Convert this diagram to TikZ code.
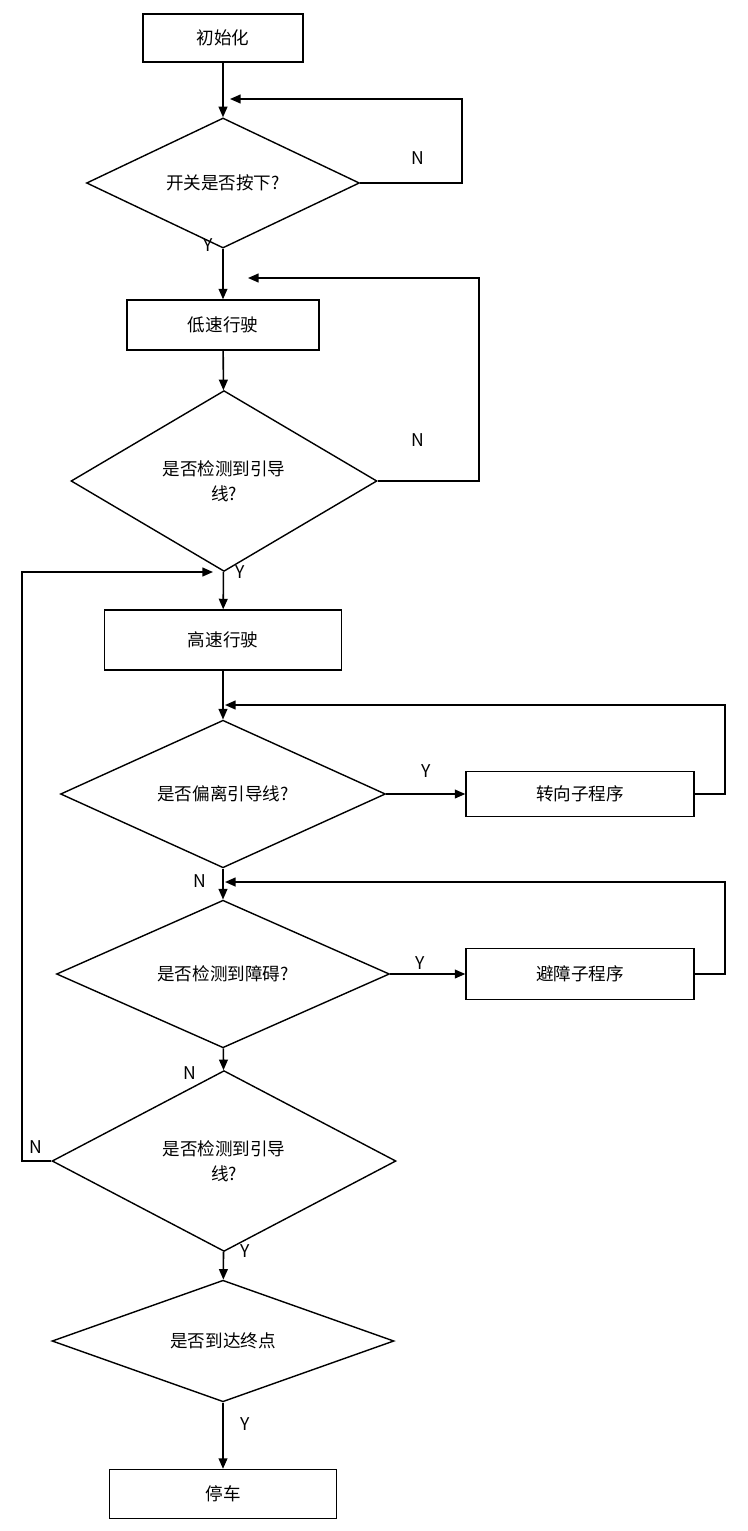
\documentclass[tikz,border=0pt]{standalone}
\usepackage{fontspec}
\setmainfont{Noto Sans CJK SC}
\usetikzlibrary{shapes.geometric,arrows.meta}

\tikzset{
	box/.style={draw,line width=0.8pt,inner sep=0pt},
	cond/.style={draw,diamond,line width=0.8pt,inner sep=0pt,align=center},
	flow/.style={line width=0.9pt,-{Triangle[length=6pt,width=5pt]}},
	lbl/.style={font=\fontsize{10}{12}\selectfont}
}

\begin{document}
\begin{tikzpicture}[x=0.02cm,y=-0.02cm,font=\fontsize{10}{14}\selectfont]
	\useasboundingbox (0,0) rectangle (747,1531);
	
	% main column
	\node[box,minimum width=3.2cm,minimum height=0.96cm] (init) at(223,38) {初始化};
	\node[cond,minimum width=5.46cm,minimum height=1.8cm] (sw) at(223,183) {开关是否按下?};
	\node[box,minimum width=3.84cm,minimum height=1.0cm] (slow) at(223,325) {低速行驶};
	\node[cond,minimum width=6.12cm,minimum height=2.2cm,text width=2.8cm] (line1) at(224,481) {是否检测到引导\\线?};
	\node[box,minimum width=4.74cm,minimum height=1.2cm] (fast) at(223,640) {高速行驶};
	\node[cond,minimum width=6.5cm,minimum height=1.92cm] (off) at(223,794) {是否偏离引导线?};
	\node[cond,minimum width=6.66cm,minimum height=2.24cm] (obst) at(223,974) {是否检测到障碍?};
	\node[cond,minimum width=6.88cm,minimum height=2.2cm,text width=2.8cm] (line2) at(224,1161) {是否检测到引导\\线?};
	\node[cond,minimum width=6.84cm,minimum height=2.04cm] (goal) at(223,1341) {是否到达终点};
	\node[box,minimum width=4.54cm,minimum height=0.98cm] (stop) at(223,1494) {停车};
	
	% side boxes
	\node[box,minimum width=4.56cm,minimum height=0.9cm] (turn) at(580,794) {转向子程序};
	\node[box,minimum width=4.56cm,minimum height=1.02cm] (avoid) at(580,974) {避障子程序};
	
	% loop ends
	\coordinate (swin) at(230,99);
	\coordinate (slowin) at(248,278);
	\coordinate (fastin) at(213,572);
	\coordinate (offin) at(225,705);
	\coordinate (obstin) at(225,882);
	
	% arrows down
	\draw[flow] (init) -- (sw);
	\draw[flow] (sw) -- (slow);
	\draw[flow] (slow) -- (line1);
	\draw[flow] (line1) -- (fast);
	\draw[flow] (fast) -- (off);
	\draw[flow] (off) -- (obst);
	\draw[flow] (obst) -- (line2);
	\draw[flow] (line2) -- (goal);
	\draw[flow] (goal) -- (stop);
	\draw[flow] (off) -- (turn);
	\draw[flow] (obst) -- (avoid);
	
	% loops back
	\draw[flow] (sw.east) -- (462,183) -- (462,99) -- (swin);
	\draw[flow] (line1.east) -- (479,481) -- (479,278) -- (slowin);
	\draw[flow] (line2.west) -- (22,1161) -- (22,572) -- (fastin);
	\draw[flow] (turn.east) -- (725,794) -- (725,705) -- (offin);
	\draw[flow] (avoid.east) -- (725,974) -- (725,882) -- (obstin);
	
	% labels
	\node[lbl] (n1) at(418,158) {N};
	\node[lbl] (y1) at(208,245) {Y};
	\node[lbl] (n2) at(418,440) {N};
	\node[lbl] (y2) at(240,572) {Y};
	\node[lbl] (y3) at(426,771) {Y};
	\node[lbl] (n3) at(200,881) {N};
	\node[lbl] (y4) at(420,963) {Y};
	\node[lbl] (n4) at(190,1073) {N};
	\node[lbl] (n5) at(36,1147) {N};
	\node[lbl] (y5) at(245,1251) {Y};
	\node[lbl] (y6) at(245,1424) {Y};
\end{tikzpicture}
\end{document}
